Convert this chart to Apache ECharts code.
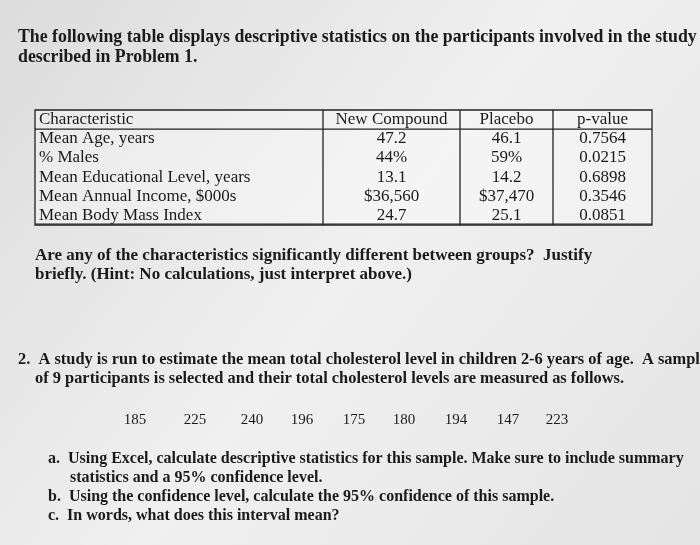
<!DOCTYPE html>
<html>
<head>
<meta charset="utf-8">
<script src="https://cdn.jsdelivr.net/npm/echarts@6/dist/echarts.min.js"></script>
<style>html,body{margin:0;padding:0;background:#ececec}#main{width:700px;height:545px}</style>
</head>
<body>
<div id="main"></div>
<script>
var headers = ['Characteristic', 'New Compound', 'Placebo', 'p-value'];
var characteristics = ['Mean Age, years', '% Males', 'Mean Educational Level, years', 'Mean Annual Income, $000s', 'Mean Body Mass Index'];
var newCompound = ['47.2', '44%', '13.1', '$36,560', '24.7'];
var placebo = ['46.1', '59%', '14.2', '$37,470', '25.1'];
var pValues = ['0.7564', '0.0215', '0.6898', '0.3546', '0.0851'];
var cholesterol = [185, 225, 240, 196, 175, 180, 194, 147, 223];

var chart = echarts.init(document.getElementById('main'));
var font = '"Liberation Serif", "DejaVu Serif", serif';
var ink = '#1a1a1a';

function txt(x, y, s, opt) {
  opt = opt || {};
  return {
    type: 'text', x: x, y: y,
    style: {
      text: s, fill: ink, font: (opt.weight || 'bold') + ' ' + (opt.size || 17) + 'px ' + font,
      textAlign: opt.align || 'left', textVerticalAlign: 'middle'
    }
  };
}
function line(x1, y1, x2, y2) {
  return { type: 'line', shape: { x1: x1, y1: y1, x2: x2, y2: y2 }, style: { stroke: '#222', lineWidth: 1.3 } };
}

var els = [];
// paper
els.push({ type: 'rect', shape: { x: 0, y: 0, width: 700, height: 545 },
  style: { fill: new echarts.graphic.LinearGradient(0, 0, 1, 1, [
    { offset: 0, color: '#dcdcdc' }, { offset: 0.5, color: '#f0f0f0' }, { offset: 1, color: '#e4e4e4' }]) } });

els.push(txt(18, 37, 'The following table displays descriptive statistics on the participants involved in the study', { size: 17.8 }));
els.push(txt(18, 57, 'described in Problem 1.', { size: 17.8 }));

// table
var colX = [35, 323, 460, 553, 652];
var tableTop = 110, rowH = 19.2;
var nRows = characteristics.length + 1;
els.push({ type: 'rect', shape: { x: colX[0], y: tableTop, width: colX[4] - colX[0], height: rowH * nRows },
  style: { fill: 'rgba(255,255,255,0.35)', stroke: '#222', lineWidth: 1.3 } });
els.push(line(colX[0], tableTop + rowH, colX[4], tableTop + rowH));
els.push(line(colX[0], tableTop + rowH * nRows - 1, colX[4], tableTop + rowH * nRows - 1));
for (var c = 1; c < 4; c++) els.push(line(colX[c], tableTop, colX[c], tableTop + rowH * nRows));

function rowCells(r, cells) {
  var y = tableTop + rowH * r + rowH / 2;
  els.push(txt(colX[0] + 4, y, cells[0], { weight: 'normal', size: 17 }));
  for (var k = 1; k < 4; k++) els.push(txt((colX[k] + colX[k + 1]) / 2, y, cells[k], { weight: 'normal', size: 17, align: 'center' }));
}
rowCells(0, headers);
for (var i = 0; i < characteristics.length; i++) {
  rowCells(i + 1, [characteristics[i], newCompound[i], placebo[i], pValues[i]]);
}

els.push(txt(35, 256, 'Are any of the characteristics significantly different between groups?  Justify'));
els.push(txt(35, 275, 'briefly. (Hint: No calculations, just interpret above.)'));

els.push(txt(18, 360, '2.  A study is run to estimate the mean total cholesterol level in children 2-6 years of age.  A sampl', { size: 16.4 }));
els.push(txt(35, 379, 'of 9 participants is selected and their total cholesterol levels are measured as follows.', { size: 16.4 }));

var xs = [135, 195, 252, 302, 354, 404, 456, 508, 557];
for (var j = 0; j < cholesterol.length; j++) els.push(txt(xs[j], 420, String(cholesterol[j]), { weight: 'normal', size: 15, align: 'center' }));

els.push(txt(48, 459, 'a.  Using Excel, calculate descriptive statistics for this sample. Make sure to include summary', { size: 16 }));
els.push(txt(70, 478, 'statistics and a 95% confidence level.', { size: 16 }));
els.push(txt(48, 497, 'b.  Using the confidence level, calculate the 95% confidence of this sample.', { size: 16 }));
els.push(txt(48, 516, 'c.  In words, what does this interval mean?', { size: 16 }));

chart.setOption({ animation: false, graphic: { elements: els } });
</script>
</body>
</html>
